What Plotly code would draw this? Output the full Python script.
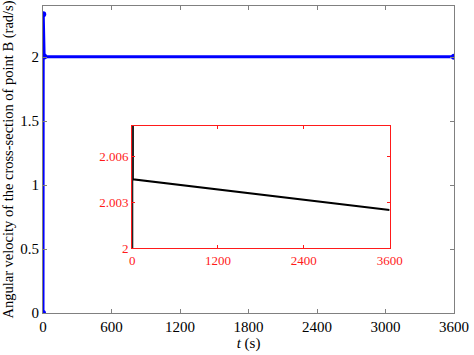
import plotly.graph_objects as go

# Data
t = [0, 2, 10, 3600]
omega = [0, 2.335, 2.0045, 2.0025]

main_xticks = [0, 600, 1200, 1800, 2400, 3000, 3600]
main_yticks = [0, 0.5, 1, 1.5, 2]
inset_xticks = [0, 1200, 2400, 3600]
inset_yticks = [2, 2.003, 2.006]
inset_ytext = ["2", "2.003", "2.006"]

FONT = "Liberation Serif"
RED = "#ff1a1a"
GRAY = "#808080"

fig = go.Figure()
fig.add_trace(go.Scatter(x=t, y=omega, mode="lines+markers",
                         line=dict(color="blue", width=3, simplify=False),
                         xaxis="x", yaxis="y", showlegend=False))
fig.add_trace(go.Scatter(x=t, y=omega, mode="lines",
                         line=dict(color="black", width=2, simplify=False),
                         xaxis="x2", yaxis="y2", showlegend=False))

fig.update_layout(
    width=474, height=355,
    margin=dict(l=43, r=16, t=5, b=42),
    paper_bgcolor="white", plot_bgcolor="rgba(0,0,0,0)",
    font=dict(family=FONT, size=15, color="black"),
    xaxis=dict(range=[0, 3600], tickvals=main_xticks, ticks="inside", ticklen=4,
               showline=True, linecolor=GRAY, linewidth=1, mirror="ticks", tickcolor=GRAY,
               showgrid=False, zeroline=False,
               title=dict(text="<i>t</i> (s)", standoff=2, font=dict(size=15))),
    yaxis=dict(range=[0, 2.4], tickvals=main_yticks, ticks="inside", ticklen=4,
               showline=True, linecolor=GRAY, linewidth=1, mirror="ticks", tickcolor=GRAY,
               showgrid=False, zeroline=False,
               title=dict(text="Angular velocity of the cross-section of point B (rad/s)",
                          standoff=3, font=dict(size=14.5))),
    xaxis2=dict(domain=[0.2169, 0.8434], anchor="y2", range=[0, 3600], tickvals=inset_xticks,
                ticks="inside", ticklen=3, showline=True, linecolor=RED, mirror="ticks",
                tickcolor=RED, tickfont=dict(color=RED, size=13), showgrid=False, zeroline=False),
    yaxis2=dict(domain=[0.211, 0.610], anchor="x2", range=[2, 2.008], tickvals=inset_yticks,
                ticktext=inset_ytext,
                ticks="inside", ticklen=3, showline=True, linecolor=RED, mirror="ticks",
                tickcolor=RED, tickfont=dict(color=RED, size=13), showgrid=False, zeroline=False),
)

fig.write_html("out.html")
